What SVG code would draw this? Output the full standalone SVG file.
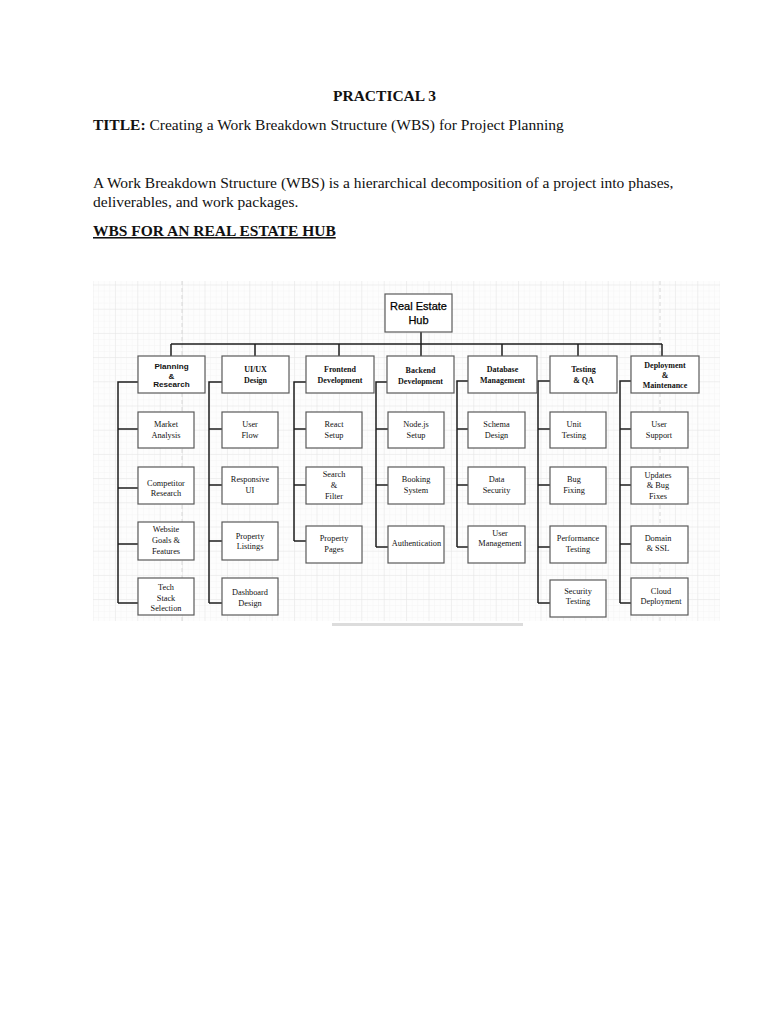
<svg xmlns="http://www.w3.org/2000/svg" width="768" height="1024" viewBox="0 0 768 1024">
<defs>
<pattern id="minor" x="92.5" y="284.5" width="5.6" height="6.05" patternUnits="userSpaceOnUse">
<path d="M0,0 V6.05 M0,0 H5.6" fill="none" stroke="#f4f4f4" stroke-width="1"/>
</pattern>
<pattern id="major" x="92.5" y="284.5" width="22.4" height="24.2" patternUnits="userSpaceOnUse">
<path d="M0,0 V24.2 M0,0 H22.4" fill="none" stroke="#e5e5e5" stroke-width="1"/>
</pattern>
<style>
.doc{font-family:"Liberation Serif","Times New Roman",serif;font-size:15.5px;fill:#111}
.b{font-weight:bold}
.box{fill:#fff;stroke:#5a5a5a;stroke-width:1.2}
.l1{font-family:"Liberation Serif","Times New Roman",serif;font-size:8px;font-weight:bold;fill:#111;text-anchor:middle}
.l1s{font-family:"Liberation Sans",Arial,sans-serif;font-size:8.1px;font-weight:bold;fill:#111;text-anchor:middle}
.l2{font-family:"Liberation Serif","Times New Roman",serif;font-size:8.3px;fill:#111;text-anchor:middle}
.root{font-family:"Liberation Sans",Arial,sans-serif;font-size:11px;fill:#000;stroke:#000;stroke-width:0.25;text-anchor:middle}
.con{fill:none;stroke:#1e1e1e;stroke-width:1.5}
</style>
</defs>
<rect width="768" height="1024" fill="#fff"/>
<text class="doc b" x="333" y="101">PRACTICAL 3</text>
<text class="doc" x="93" y="130"><tspan class="b">TITLE:</tspan> Creating a Work Breakdown Structure (WBS) for Project Planning</text>
<text class="doc" x="93" y="188">A Work Breakdown Structure (WBS) is a hierarchical decomposition of a project into phases,</text>
<text class="doc" x="93" y="207">deliverables, and work packages.</text>
<text class="doc b" x="93" y="236" text-decoration="underline">WBS FOR AN REAL ESTATE HUB</text>

<g id="canvas">
<rect x="93" y="281" width="627" height="340" fill="#fdfdfd"/>
<rect x="93" y="281" width="627" height="340" fill="url(#minor)"/>
<rect x="93" y="281" width="627" height="340" fill="url(#major)"/>
<path d="M182,281 V621 M660,281 V621" stroke="#d8d8d8" stroke-width="1" stroke-dasharray="4,3"/>
<rect x="332" y="623" width="191" height="3" fill="#dcdcdc"/>
</g>

<g id="connectors">
<path class="con" d="M421,332 V344 M171,344 H662 M171,344 V356 M255,344 V356 M339,344 V356 M421,344 V356 M502,344 V356 M578,344 V356 M662,344 V356"/>
<path class="con" d="M138,382 H118 V603 M118,429 H138 M118,488 H138 M118,544 H138 M118,603 H138"/>
<path class="con" d="M222,382 H209 V603 M209,429 H222 M209,485 H222 M209,541 H222 M209,603 H222"/>
<path class="con" d="M306,382 H294 V541 M294,429 H306 M294,485 H306 M294,541 H306"/>
<path class="con" d="M387,382 H376 V547 M376,429 H388 M376,485 H388 M376,547 H388"/>
<path class="con" d="M468,381 H457 V547 M457,429 H468 M457,485 H468 M457,547 H468"/>
<path class="con" d="M550,381 H538 V603 M538,429 H550 M538,485 H550 M538,547 H550 M538,603 H550"/>
<path class="con" d="M631,381 H620 V603 M620,429 H631 M620,485 H631 M620,544 H631 M620,603 H631"/>
</g>

<g id="root">
<rect class="box" x="385" y="294" width="67" height="38"/>
<text class="root" x="418.5" y="310">Real Estate</text>
<text class="root" x="418.5" y="323.5">Hub</text>
</g>

<g id="planning">
<rect class="box" x="138" y="356" width="67" height="37"/>
<text class="l1s" x="171.5" y="369">Planning</text>
<text class="l1s" x="171.5" y="379">&amp;</text>
<text class="l1s" x="171.5" y="387">Research</text>
</g>
<g id="uiux">
<rect class="box" x="222" y="356" width="67" height="37"/>
<text class="l1" x="255.5" y="372">UI/UX</text>
<text class="l1" x="255.5" y="383">Design</text>
</g>
<g id="frontend">
<rect class="box" x="306" y="356" width="68" height="37"/>
<text class="l1" x="340" y="372">Frontend</text>
<text class="l1" x="340" y="383">Development</text>
</g>
<g id="backend">
<rect class="box" x="387" y="356" width="67" height="37"/>
<text class="l1" x="420.5" y="373">Backend</text>
<text class="l1" x="420.5" y="384">Development</text>
</g>
<g id="database">
<rect class="box" x="468" y="356" width="69" height="37"/>
<text class="l1" x="502.5" y="372">Database</text>
<text class="l1" x="502.5" y="383">Management</text>
</g>
<g id="testing">
<rect class="box" x="550" y="356" width="67" height="37"/>
<text class="l1" x="583.5" y="372">Testing</text>
<text class="l1" x="583.5" y="382.5">&amp; QA</text>
</g>
<g id="deployment">
<rect class="box" x="631" y="356" width="68" height="37"/>
<text class="l1" x="665" y="368">Deployment</text>
<text class="l1" x="665" y="378">&amp;</text>
<text class="l1" x="665" y="388">Maintenance</text>
</g>

<g id="market-analysis"><rect class="box" x="138" y="412" width="56" height="36"/><text class="l2" x="166" y="427">Market</text><text class="l2" x="166" y="437.5">Analysis</text></g>
<g id="competitor-research"><rect class="box" x="138" y="467" width="56" height="37"/><text class="l2" x="166" y="486">Competitor</text><text class="l2" x="166" y="496">Research</text></g>
<g id="website-goals"><rect class="box" x="138" y="522" width="56" height="38"/><text class="l2" x="166" y="532">Website</text><text class="l2" x="166" y="543">Goals &amp;</text><text class="l2" x="166" y="554">Features</text></g>
<g id="tech-stack"><rect class="box" x="138" y="578" width="56" height="37"/><text class="l2" x="166" y="590">Tech</text><text class="l2" x="166" y="601">Stack</text><text class="l2" x="166" y="611">Selection</text></g>

<g id="user-flow"><rect class="box" x="222" y="412" width="56" height="36"/><text class="l2" x="250" y="427">User</text><text class="l2" x="250" y="437.5">Flow</text></g>
<g id="responsive-ui"><rect class="box" x="222" y="467" width="56" height="37"/><text class="l2" x="250" y="482">Responsive</text><text class="l2" x="250" y="493">UI</text></g>
<g id="property-listings"><rect class="box" x="222" y="522" width="56" height="38"/><text class="l2" x="250" y="539">Property</text><text class="l2" x="250" y="548.5">Listings</text></g>
<g id="dashboard-design"><rect class="box" x="222" y="578" width="56" height="37"/><text class="l2" x="250" y="595">Dashboard</text><text class="l2" x="250" y="606">Design</text></g>

<g id="react-setup"><rect class="box" x="306" y="412" width="56" height="36"/><text class="l2" x="334" y="427">React</text><text class="l2" x="334" y="437.5">Setup</text></g>
<g id="search-filter"><rect class="box" x="306" y="467" width="56" height="37"/><text class="l2" x="334" y="477">Search</text><text class="l2" x="334" y="488">&amp;</text><text class="l2" x="334" y="499">Filter</text></g>
<g id="property-pages"><rect class="box" x="306" y="526" width="56" height="37"/><text class="l2" x="334" y="541">Property</text><text class="l2" x="334" y="552">Pages</text></g>

<g id="nodejs-setup"><rect class="box" x="388" y="412" width="56" height="36"/><text class="l2" x="416" y="427">Node.js</text><text class="l2" x="416" y="437.5">Setup</text></g>
<g id="booking-system"><rect class="box" x="388" y="467" width="56" height="37"/><text class="l2" x="416" y="482">Booking</text><text class="l2" x="416" y="493">System</text></g>
<g id="authentication"><rect class="box" x="388" y="526" width="56" height="37"/><text class="l2" x="416.5" y="546">Authentication</text></g>

<g id="schema-design"><rect class="box" x="468" y="412" width="57" height="36"/><text class="l2" x="496.5" y="427">Schema</text><text class="l2" x="496.5" y="437.5">Design</text></g>
<g id="data-security"><rect class="box" x="468" y="467" width="57" height="37"/><text class="l2" x="496.5" y="482">Data</text><text class="l2" x="496.5" y="493">Security</text></g>
<g id="user-management"><rect class="box" x="468" y="526" width="57" height="37"/><text class="l2" x="500" y="536">User</text><text class="l2" x="500" y="546">Management</text></g>

<g id="unit-testing"><rect class="box" x="550" y="412" width="56" height="36"/><text class="l2" x="574" y="427">Unit</text><text class="l2" x="574" y="437.5">Testing</text></g>
<g id="bug-fixing"><rect class="box" x="550" y="467" width="56" height="37"/><text class="l2" x="574" y="482">Bug</text><text class="l2" x="574" y="493">Fixing</text></g>
<g id="performance-testing"><rect class="box" x="550" y="526" width="56" height="37"/><text class="l2" x="578" y="541">Performance</text><text class="l2" x="578" y="552">Testing</text></g>
<g id="security-testing"><rect class="box" x="550" y="580" width="56" height="37"/><text class="l2" x="578" y="594">Security</text><text class="l2" x="578" y="604">Testing</text></g>

<g id="user-support"><rect class="box" x="631" y="412" width="57" height="36"/><text class="l2" x="659" y="427">User</text><text class="l2" x="659" y="437.5">Support</text></g>
<g id="updates-bug-fixes"><rect class="box" x="631" y="467" width="57" height="37"/><text class="l2" x="658" y="478">Updates</text><text class="l2" x="658" y="488">&amp; Bug</text><text class="l2" x="658" y="499">Fixes</text></g>
<g id="domain-ssl"><rect class="box" x="631" y="526" width="57" height="37"/><text class="l2" x="658" y="541">Domain</text><text class="l2" x="658" y="551">&amp; SSL</text></g>
<g id="cloud-deployment"><rect class="box" x="631" y="578" width="57" height="37"/><text class="l2" x="661" y="594">Cloud</text><text class="l2" x="661" y="604">Deployment</text></g>
</svg>
